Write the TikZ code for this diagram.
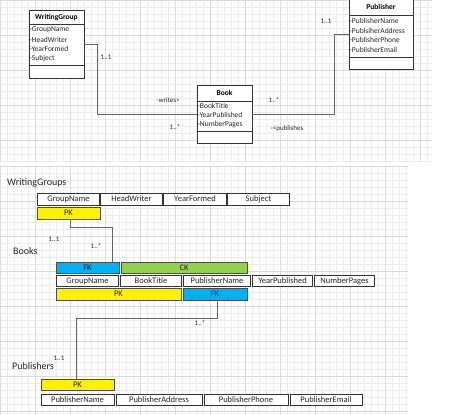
\documentclass[tikz,border=0pt]{standalone}
\usepackage{fontspec}
\setmainfont{Carlito}
\begin{document}
\begin{tikzpicture}[x=1pt,y=-1pt,
  gridminor/.style={draw=black!7,line width=0.4pt},
  gridmajor/.style={draw=black!14,line width=0.5pt},
  umlbox/.style={draw=black!80,line width=0.9pt,inner sep=0pt,fill=white},
  umltitle/.style={font=\fontsize{7.5}{8}\selectfont\bfseries,inner sep=0pt},
  attr/.style={font=\fontsize{7.5}{8}\selectfont,inner sep=0pt,anchor=west,text=black!85},
  mult/.style={font=\fontsize{7}{8}\selectfont,inner sep=0pt,text=black!85},
  conn/.style={draw=black!60,line width=0.8pt},
  cell/.style={draw=black!80,line width=0.8pt,fill=white,inner sep=0pt,
    font=\fontsize{8.5}{9}\selectfont,text=black!85},
  pk/.style={cell,fill=yellow,draw=black!70},
  fk/.style={cell,fill={rgb,255:red,0;green,176;blue,240},draw=black!70},
  ck/.style={cell,fill={rgb,255:red,146;green,208;blue,80},draw=black!70},
  heading/.style={font=\fontsize{10}{12}\selectfont,inner sep=0pt,anchor=west,text=black!85}
]
\useasboundingbox (0,0) rectangle (474,415);
\fill[white] (0,0) rectangle (474,415);
% grids
\foreach \x in {0,7,...,432} \draw[gridminor] (\x,0) -- (\x,162);
\foreach \y in {0,7,...,161} \draw[gridminor] (0,\y) -- (432,\y);
\foreach \x in {0,35,...,432} \draw[gridmajor] (\x,0) -- (\x,162);
\foreach \y in {0,35,...,161} \draw[gridmajor] (0,\y) -- (432,\y);
\foreach \x in {0,7,...,408} \draw[gridminor] (\x,166) -- (\x,415);
\foreach \y in {166,173,...,415} \draw[gridminor] (0,\y) -- (408,\y);
\foreach \x in {0,35,...,408} \draw[gridmajor] (\x,166) -- (\x,415);
\foreach \y in {166,201,...,415} \draw[gridmajor] (0,\y) -- (408,\y);

% ---------- UML part ----------
\node[umlbox,minimum width=55pt,minimum height=68pt] (wg) at (56.5,44) {};
\draw[umlbox] (wg.west |- 0,24) -- (wg.east |- 0,24);
\draw[umlbox] (wg.west |- 0,65) -- (wg.east |- 0,65);
\node[umltitle] (wgT) at (56.5,17) {WritingGroup};
\node[attr] (wgA1) at (29.5,30) {-GroupName};
\node[attr] (wgA2) at (29.5,39.7) {-HeadWriter};
\node[attr] (wgA3) at (29.5,49.3) {-YearFormed};
\node[attr] (wgA4) at (29.5,59) {-Subject};

\node[umlbox,minimum width=55pt,minimum height=58pt] (bk) at (224.5,114) {};
\draw[umlbox] (bk.west |- 0,101) -- (bk.east |- 0,101);
\draw[umlbox] (bk.west |- 0,131) -- (bk.east |- 0,131);
\node[umltitle] (bkT) at (224.5,93) {Book};
\node[attr] (bkA1) at (197.5,105.5) {-BookTitle};
\node[attr] (bkA2) at (197.5,115.2) {-YearPublished};
\node[attr] (bkA3) at (197.5,125) {-NumberPages};

\node[umlbox,minimum width=64pt,minimum height=70pt] (pub) at (381,34) {};
\draw[umlbox] (pub.west |- 0,15) -- (pub.east |- 0,15);
\draw[umlbox] (pub.west |- 0,57) -- (pub.east |- 0,57);
\node[umltitle] (pubT) at (381,7) {Publisher};
\node[attr] (pubA1) at (349.5,21) {-PublisherName};
\node[attr] (pubA2) at (349.5,30.7) {-PublsiherAddress};
\node[attr] (pubA3) at (349.5,40.3) {-PublisherPhone};
\node[attr] (pubA4) at (349.5,50) {-PublisherEmail};

\draw[conn] (wg.east) -- ++(13,0) |- (bk.west);
\draw[conn] (bk.east) -- ++(82,0) |- (pub.west);

\node[mult] (m1) at (106,57) {1..1};
\node[mult] (m2) at (168,100) {-writes>};
\node[mult] (m3) at (175,127) {1..*};
\node[mult] (m4) at (274,100) {1..*};
\node[mult] (m5) at (287,129) {-<publishes};
\node[mult] (m6) at (326,21) {1..1};

% ---------- relational part ----------
\node[heading] (hWG) at (7,183) {WritingGroups};
\node[cell,minimum width=62pt,minimum height=12pt] (wgC1) at (68.5,199) {GroupName};
\node[cell,minimum width=62pt,minimum height=12pt] (wgC2) at (131.5,199) {HeadWriter};
\node[cell,minimum width=63pt,minimum height=12pt] (wgC3) at (195,199) {YearFormed};
\node[cell,minimum width=62pt,minimum height=12pt] (wgC4) at (258.5,199) {Subject};
\node[pk,minimum width=63pt,minimum height=12pt] (wgPK) at (68.5,213) {PK};

\node[heading] (hBK) at (13,251) {Books};
\node[fk,minimum width=63pt,minimum height=11pt] (bkFK) at (87.5,267.5) {FK};
\node[ck,minimum width=126pt,minimum height=11pt] (bkCK) at (184,267.5) {CK};
\node[cell,minimum width=62pt,minimum height=11pt] (bkC1) at (87.5,281) {GroupName};
\node[cell,minimum width=61pt,minimum height=11pt] (bkC2) at (151,281) {BookTitle};
\node[cell,minimum width=67pt,minimum height=11pt] (bkC3) at (217,281) {PublisherName};
\node[cell,minimum width=60pt,minimum height=11pt] (bkC4) at (282.5,281) {YearPublished};
\node[cell,minimum width=60pt,minimum height=11pt] (bkC5) at (344.5,281) {NumberPages};
\node[pk,minimum width=125pt,minimum height=12pt] (bkPK) at (118.5,294) {PK};
\node[fk,minimum width=64pt,minimum height=12pt] (bkFK2) at (215,294) {FK};

\node[heading] (hPU) at (12,366) {Publishers};
\node[pk,minimum width=73pt,minimum height=11pt] (puPK) at (77.5,384.5) {PK};
\node[cell,minimum width=73pt,minimum height=11pt] (puC1) at (77.5,399.5) {PublisherName};
\node[cell,minimum width=86pt,minimum height=11pt] (puC2) at (159,399.5) {PublisherAddress};
\node[cell,minimum width=84pt,minimum height=11pt] (puC3) at (246,399.5) {PublisherPhone};
\node[cell,minimum width=72pt,minimum height=11pt] (puC4) at (326,399.5) {PublisherEmail};

\draw[conn] ([xshift=1.5pt]wgPK.south) -- ++(0,8) -| ([xshift=-7pt]bkFK.north east);
\draw[conn] ([xshift=2pt]bkFK2.south) -- ++(0,18) -| ([xshift=-1.5pt]puPK.north);

\node[mult] (m7) at (54,239) {1..1};
\node[mult] (m8) at (96,246) {1..*};
\node[mult] (m9) at (200,323) {1..*};
\node[mult] (m10) at (59,358) {1..1};
\end{tikzpicture}
\end{document}
